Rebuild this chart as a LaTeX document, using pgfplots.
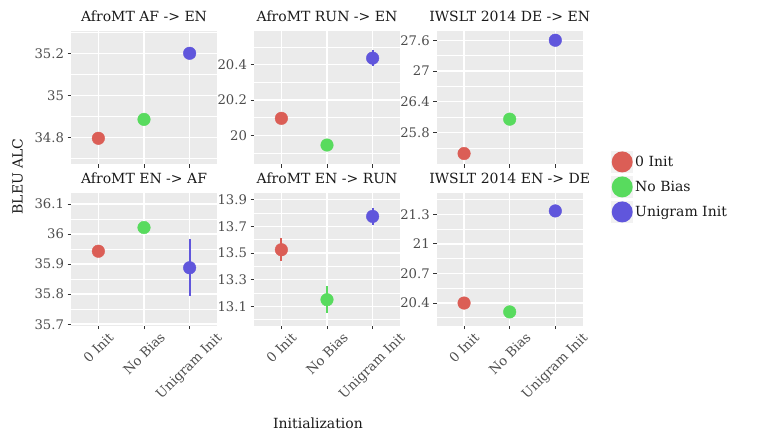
\documentclass[border=0pt]{standalone}
\usepackage{fontspec}
\setmainfont{DejaVu Serif}
\usepackage{graphicx}
\usepackage{pgfplots}
\pgfplotsset{compat=1.18}

\definecolor{cR}{RGB}{219,94,86}
\definecolor{cG}{RGB}{88,219,94}
\definecolor{cB}{RGB}{96,86,220}
\definecolor{panelbg}{RGB}{235,235,235}
\definecolor{keybg}{RGB}{242,242,242}
\definecolor{grey20}{RGB}{51,51,51}
\definecolor{grey30}{RGB}{77,77,77}
\definecolor{grey10}{RGB}{26,26,26}

\newcommand{\smallfont}{\fontsize{13.2}{15}\selectfont}
\newcommand{\stripfont}{\fontsize{14}{16}\selectfont}

\pgfplotsset{
  panel/.style={
    scale only axis, width=146pt, height=133pt, anchor=south west,
    xmin=0.4, xmax=3.6, xtick={1,2,3}, xticklabels={},
    axis background/.style={fill=panelbg},
    axis line style={draw=none},
    xmajorgrids, ymajorgrids, yminorgrids,
    major grid style={white, line width=1.4pt},
    minor grid style={white, line width=0.7pt},
    tick align=outside, major tick length=3.5pt, minor tick length=0pt,
    major tick style={grey20, line width=0.9pt},
    xtick pos=left, ytick pos=left,
    ticklabel style={font=\smallfont, text=grey30},
    /pgf/number format/assume math mode=true,
    title style={font=\stripfont, text=grey10, anchor=base, at={(0.5,1)}, yshift=3.5pt},
  },
  lower/.style={
    xticklabels={\rotatebox{45}{0 Init}, \rotatebox{45}{No Bias}, \rotatebox{45}{Unigram Init}},
    xticklabel style={anchor=north, inner sep=2pt},
  },
}

% one point with its error bar
\newcommand{\pt}[4]{\addplot[color=#1, only marks, mark=*, mark size=6.3pt,
  mark options={solid, fill=#1, draw=#1},
  error bars/.cd, y dir=both, y explicit, error mark=none,
  error bar style={line width=2pt, draw=#1}]
  coordinates {(#2,#3) +- (0,#4)};}

\begin{document}
\begin{tikzpicture}
\useasboundingbox (0,0) rectangle (762pt,443pt);

% top row
\begin{axis}[panel, at={(71pt,278.7pt)}, title={AfroMT AF -> EN},
  ymin=34.671, ymax=35.305, ytick={34.8,35,35.2}, minor ytick={34.7,34.9,35.1,35.3}]
\pt{cR}{1}{34.795}{0.004}
\pt{cG}{2}{34.885}{0.004}
\pt{cB}{3}{35.200}{0.004}
\end{axis}

\begin{axis}[panel, at={(254pt,278.7pt)}, title={AfroMT RUN -> EN},
  ymin=19.836, ymax=20.589, ytick={20,20.2,20.4}, minor ytick={19.9,20.1,20.3,20.5}]
\pt{cR}{1}{20.096}{0.005}
\pt{cG}{2}{19.945}{0.005}
\pt{cB}{3}{20.437}{0.045}
\end{axis}

\begin{axis}[panel, at={(436.7pt,278.7pt)}, title={IWSLT 2014 DE -> EN},
  ymin=25.18, ymax=27.775, ytick={25.8,26.4,27,27.6}, minor ytick={25.5,26.1,26.7,27.3},
  legend style={at={(1.194,0.102)}, anchor=north west, draw=none, fill=none,
    font=\stripfont, text=grey10, inner sep=0pt, row sep=3pt,
    /tikz/every even column/.style={column sep=4pt}},
  legend cell align=left,
  legend image code/.code={
    \fill[keybg, draw=none] (0pt,-11pt) rectangle (22pt,11pt);
    \fill[draw=none] (11pt,0pt) circle (10.5pt);}]
\pt{cR}{1}{25.39}{0.01}
\addlegendentry{0 Init}
\pt{cG}{2}{26.06}{0.01}
\addlegendentry{No Bias}
\pt{cB}{3}{27.60}{0.01}
\addlegendentry{Unigram Init}
\end{axis}

% bottom row
\begin{axis}[panel, lower, at={(71pt,117.3pt)}, title={AfroMT EN -> AF},
  ymin=35.695, ymax=36.138, ytick={35.7,35.8,35.9,36,36.1},
  minor ytick={35.75,35.85,35.95,36.05}]
\pt{cR}{1}{35.943}{0.003}
\pt{cG}{2}{36.022}{0.003}
\pt{cB}{3}{35.888}{0.095}
\end{axis}

\begin{axis}[panel, lower, at={(254pt,117.3pt)}, title={AfroMT EN -> RUN},
  ymin=12.955, ymax=13.953, ytick={13.1,13.3,13.5,13.7,13.9},
  minor ytick={13.0,13.2,13.4,13.6,13.8}]
\pt{cR}{1}{13.525}{0.085}
\pt{cG}{2}{13.150}{0.100}
\pt{cB}{3}{13.775}{0.065}
\end{axis}

\begin{axis}[panel, lower, at={(436.7pt,117.3pt)}, title={IWSLT 2014 EN -> DE},
  ymin=20.17, ymax=21.52, ytick={20.4,20.7,21,21.3},
  minor ytick={20.25,20.55,20.85,21.15,21.45}]
\pt{cR}{1}{20.40}{0.01}
\pt{cG}{2}{20.31}{0.01}
\pt{cB}{3}{21.335}{0.05}
\end{axis}

\node[rotate=90, font=\stripfont, text=grey10] at (17.5pt,266.5pt) {BLEU ALC};
\node[font=\stripfont, text=grey10] at (318pt,20pt) {Initialization};
\end{tikzpicture}
\end{document}
